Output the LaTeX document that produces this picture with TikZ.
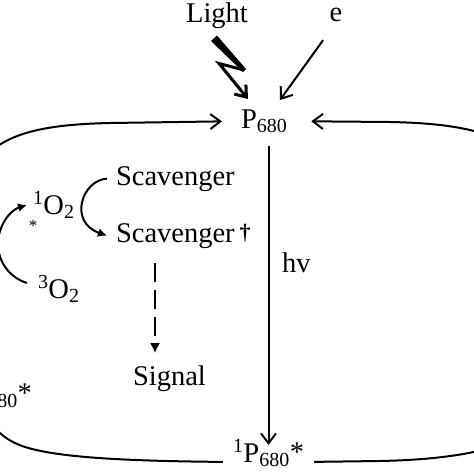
\documentclass[tikz,border=0pt]{standalone}
\usepackage{fontspec}
\setmainfont{Liberation Serif}
\usetikzlibrary{arrows.meta}
\newcommand{\bigast}{\raisebox{1pt}{*}}
\newcommand{\mydag}{\raisebox{3pt}{\fontsize{22}{22}\selectfont\bfseries †}}
\begin{document}
\begin{tikzpicture}[x=1pt,y=-1pt, line width=2pt,
  txt/.style={inner sep=0pt, font=\fontsize{28.5}{30}\selectfont},
  open/.style={-{Straight Barb[length=10pt,width=15pt]}},
  filled/.style={-{Latex[length=9pt,width=9pt]}}]
\useasboundingbox (0,0) rectangle (474,474);
\clip (0,0) rectangle (474,474);
% nodes
\node[txt, anchor=base] (light) at (217,22) {Light};
\node[txt, anchor=base] (e) at (336,21) {e};
\node[txt, anchor=base west] (P) at (240,128) {P\textsubscript{680}};
\node[txt, anchor=base west] (P1) at (232,462) {\textsuperscript{1}P\textsubscript{680}\bigast};
\node[txt, anchor=base east] (P3) at (33,403) {\textsuperscript{3}P\textsubscript{680}\bigast};
\node[txt, anchor=base west] (S1) at (115,185) {Scavenger};
\node[txt, anchor=base west] (S2) at (115,242) {Scavenger\hspace{5pt}\mydag};
\node[txt, anchor=base west] (sig) at (132,385) {Signal};
\node[txt, anchor=base west] (hv) at (281,272) {hv};
\node[txt, anchor=base west] (O1) at (32,214) {\textsuperscript{1}O\textsubscript{2}};
\node[txt, anchor=base west] (O3) at (37,298) {\textsuperscript{3}O\textsubscript{2}};
\node[txt, font=\fontsize{17}{18}\selectfont] (ast) at (33,226) {*};
% coordinates
\coordinate (tl) at (-35,220);
\coordinate (tr) at (510,145);
\coordinate (bl) at (-8,425);
\coordinate (br) at (500,445);
\coordinate (eend) at (280,100);
\coordinate (lend) at (248,99);
\coordinate (oa) at (27,283);
\coordinate (ob) at (27,205);
\coordinate (dcol) at (155,0);
% light bolt
\fill (211,41) -- (217,35.5) -- (246,69) -- (243,72) -- cycle;
\draw[line width=3pt, open, line join=miter] (244,70) -- (219,63.5) -- (lend);
% e arrow
\draw[open, shorten <=22pt] (e.south) -- (eend);
% loop
\draw[open, shorten >=18pt] (tl) .. controls (-35,140) and (20,125) .. (110,123) -- (P.west);
\draw[open, shorten >=23pt] (tr) .. controls (480,128) and (440,123) .. (390,122) -- (P.east);
\draw[shorten <=9pt] (P1.base west) .. controls (130,461) and (60,458) .. (25,447) .. controls (10,442) and (2,436) .. (bl);
\draw[shorten <=9pt] (P1.base east) -- (380,461) .. controls (430,460) and (470,455) .. (br);
% hv arrow
\draw[open, shorten <=12pt, shorten >=17pt] (P1.base |- P.south) -- (P1.base);
% O2 cycle
\draw[filled] (oa) .. controls (9.8,277.7) and (-2,262) .. (-2,244) .. controls (-2,226) and (9.8,210.3) .. (ob);
% scavenger
\draw[filled] ([xshift=-8pt]S1.west) .. controls (82,180) and (68,222) .. ([xshift=-8pt]S2.west);
\draw[-{Latex[length=10pt,width=10pt]}, dash pattern=on 19pt off 8pt, shorten <=14pt, shorten >=11pt] (S2.south -| dcol) -- (sig.north -| dcol);
\end{tikzpicture}
\end{document}
